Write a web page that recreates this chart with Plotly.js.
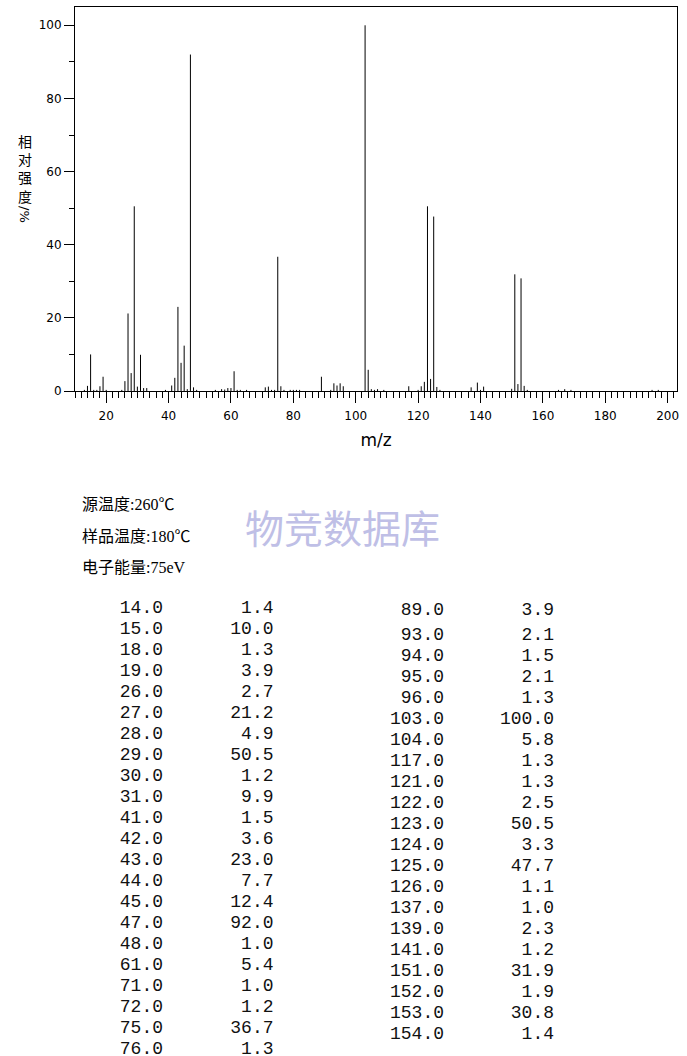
<!DOCTYPE html>
<html>
<head>
<meta charset="utf-8">
<script src="https://cdn.plot.ly/plotly-3.0.1.min.js"></script>
<style>
  html, body { margin: 0; padding: 0; background: #fff; }
  #page { position: relative; width: 687px; height: 1056px; overflow: hidden; background: #fff; }
  #chart { position: absolute; left: 0; top: 0; width: 687px; height: 460px; }
  .info { position: absolute; left: 82px; font-family: "Liberation Serif", "Noto Sans CJK SC", serif; font-size: 16px; line-height: 16px; color: #000; white-space: nowrap; }
  .wm { position: absolute; left: 245px; font-family: "Noto Sans CJK SC", sans-serif; font-size: 39px; line-height: 39px; color: #bfbfe6; white-space: nowrap; }
  .cell { position: absolute; font-family: "Liberation Mono", "DejaVu Sans Mono", monospace; font-size: 18px; line-height: 18px; color: #111; text-align: right; white-space: pre; }
</style>
</head>
<body>
<div id="page">
  <div id="chart"></div>
</div>
<script>
// ---- data ----
var tableMz = [14, 15, 18, 19, 26, 27, 28, 29, 30, 31, 41, 42, 43, 44, 45, 47, 48, 61, 71, 72, 75, 76,
               89, 93, 94, 95, 96, 103, 104, 117, 121, 122, 123, 124, 125, 126, 137, 139, 141, 151, 152, 153, 154];
var tableIntensity = [1.4, 10.0, 1.3, 3.9, 2.7, 21.2, 4.9, 50.5, 1.2, 9.9, 1.5, 3.6, 23.0, 7.7, 12.4, 92.0, 1.0, 5.4, 1.0, 1.2, 36.7, 1.3,
                      3.9, 2.1, 1.5, 2.1, 1.3, 100.0, 5.8, 1.3, 1.3, 2.5, 50.5, 3.3, 47.7, 1.1, 1.0, 2.3, 1.2, 31.9, 1.9, 30.8, 1.4];
// small peaks (< 1 %) visible in the spectrum but not listed in the table
var minorMz = [13, 16, 17, 20, 25, 32, 33, 39, 46, 49, 55, 57, 58, 59, 60, 62, 63, 65, 73, 74, 77, 79, 80, 81, 82,
               92, 105, 106, 107, 109, 120, 127, 140, 150, 155, 165, 167, 169, 195, 197];
var minorIntensity = [0.3, 0.3, 0.3, 0.3, 0.3, 0.8, 0.8, 0.3, 0.5, 0.3, 0.3, 0.5, 0.4, 0.8, 0.8, 0.3, 0.3, 0.3, 0.3, 0.3, 0.3, 0.3, 0.3, 0.3, 0.3,
                      0.3, 0.5, 0.3, 0.5, 0.3, 0.3, 0.3, 0.3, 0.6, 0.3, 0.3, 0.5, 0.3, 0.3, 0.3];
var infoLines = ["源温度:260℃", "样品温度:180℃", "电子能量:75eV"];
var watermark = "物竞数据库";
var xTitle = "m/z";
var yTitleChars = ["相", "对", "强", "度"];
var yTitleTail = "/%";
var leftCount = 22;

// ---- build stems ----
var sx = [], sy = [];
function addStems(ms, vs) {
  for (var i = 0; i < ms.length; i++) {
    sx.push(ms[i], ms[i], null);
    sy.push(0, vs[i], null);
  }
}
addStems(tableMz, tableIntensity);
addStems(minorMz, minorIntensity);

var trace = {
  x: sx, y: sy, type: 'scatter', mode: 'lines',
  line: { color: '#000', width: 1 },
  hoverinfo: 'skip', showlegend: false
};

var tickFont = { family: 'DejaVu Sans, sans-serif', size: 12, color: '#000' };
var L = 75, R = 677, T = 7, B = 391;
function px2paperX(p) { return (p - L) / (R - L); }
function px2paperY(p) { return (B - p) / (B - T); }

var annotations = [
  { xref: 'paper', yref: 'paper', x: px2paperX(25), y: px2paperY(168), xanchor: 'center', yanchor: 'middle',
    text: yTitleChars.join('<br>'), showarrow: false,
    font: { family: 'Noto Sans CJK SC, sans-serif', size: 14, color: '#000' } },
  { xref: 'paper', yref: 'paper', x: px2paperX(25), y: px2paperY(214), xanchor: 'center', yanchor: 'middle',
    text: yTitleTail, textangle: 90, showarrow: false,
    font: { family: 'DejaVu Sans, sans-serif', size: 13, color: '#000' } }
];

var layout = {
  width: 687, height: 460,
  margin: { l: L, r: 687 - R, t: T, b: 460 - B },
  paper_bgcolor: '#fff', plot_bgcolor: '#fff',
  showlegend: false,
  xaxis: {
    range: [10, 203], showgrid: false, zeroline: false,
    showline: true, mirror: true, linecolor: '#000', linewidth: 1,
    ticks: 'outside', ticklen: 11, tickwidth: 1, tickcolor: '#000',
    tick0: 0, dtick: 20, tickfont: tickFont, ticklabelstandoff: 3,
    minor: { dtick: 2, tick0: 0, ticks: 'outside', ticklen: 6, tickwidth: 1, tickcolor: '#000', showgrid: false },
    title: { text: xTitle, font: { family: 'DejaVu Sans, sans-serif', size: 17, color: '#000' }, standoff: 11 }
  },
  yaxis: {
    range: [0, 105], showgrid: false, zeroline: false,
    showline: true, mirror: true, linecolor: '#000', linewidth: 1,
    ticks: 'outside', ticklen: 10, tickwidth: 1, tickcolor: '#000',
    tick0: 0, dtick: 20, tickfont: tickFont,
    minor: { dtick: 10, tick0: 0, ticks: 'outside', ticklen: 5, tickwidth: 1, tickcolor: '#000', showgrid: false }
  },
  annotations: annotations
};

Plotly.newPlot('chart', [trace], layout, { staticPlot: true, displayModeBar: false });

// ---- text block below the chart ----
var page = document.getElementById('page');
var infoCenters = [505, 537, 568];
infoLines.forEach(function (t, i) {
  var d = document.createElement('div');
  d.className = 'info';
  d.style.top = (infoCenters[i] - 8) + 'px';
  d.textContent = t;
  page.appendChild(d);
});
var wm = document.createElement('div');
wm.className = 'wm';
wm.style.top = (526 - 19.5) + 'px';
wm.textContent = watermark;
page.appendChild(wm);

function cell(text, rightEdge, centerY) {
  var d = document.createElement('div');
  d.className = 'cell';
  d.style.right = (687 - rightEdge) + 'px';
  d.style.top = (centerY - 9) + 'px';
  d.textContent = text;
  page.appendChild(d);
}
for (var i = 0; i < tableMz.length; i++) {
  var cy, mzEdge, vEdge;
  if (i < leftCount) {
    cy = 608 + 21 * i; mzEdge = 163; vEdge = 273.5;
  } else {
    var k = i - leftCount;
    cy = (k === 0) ? 610 : 635 + 21 * (k - 1); mzEdge = 444; vEdge = 554;
  }
  cell(tableMz[i].toFixed(1), mzEdge, cy);
  cell(tableIntensity[i].toFixed(1), vEdge, cy);
}
</script>
</body>
</html>
